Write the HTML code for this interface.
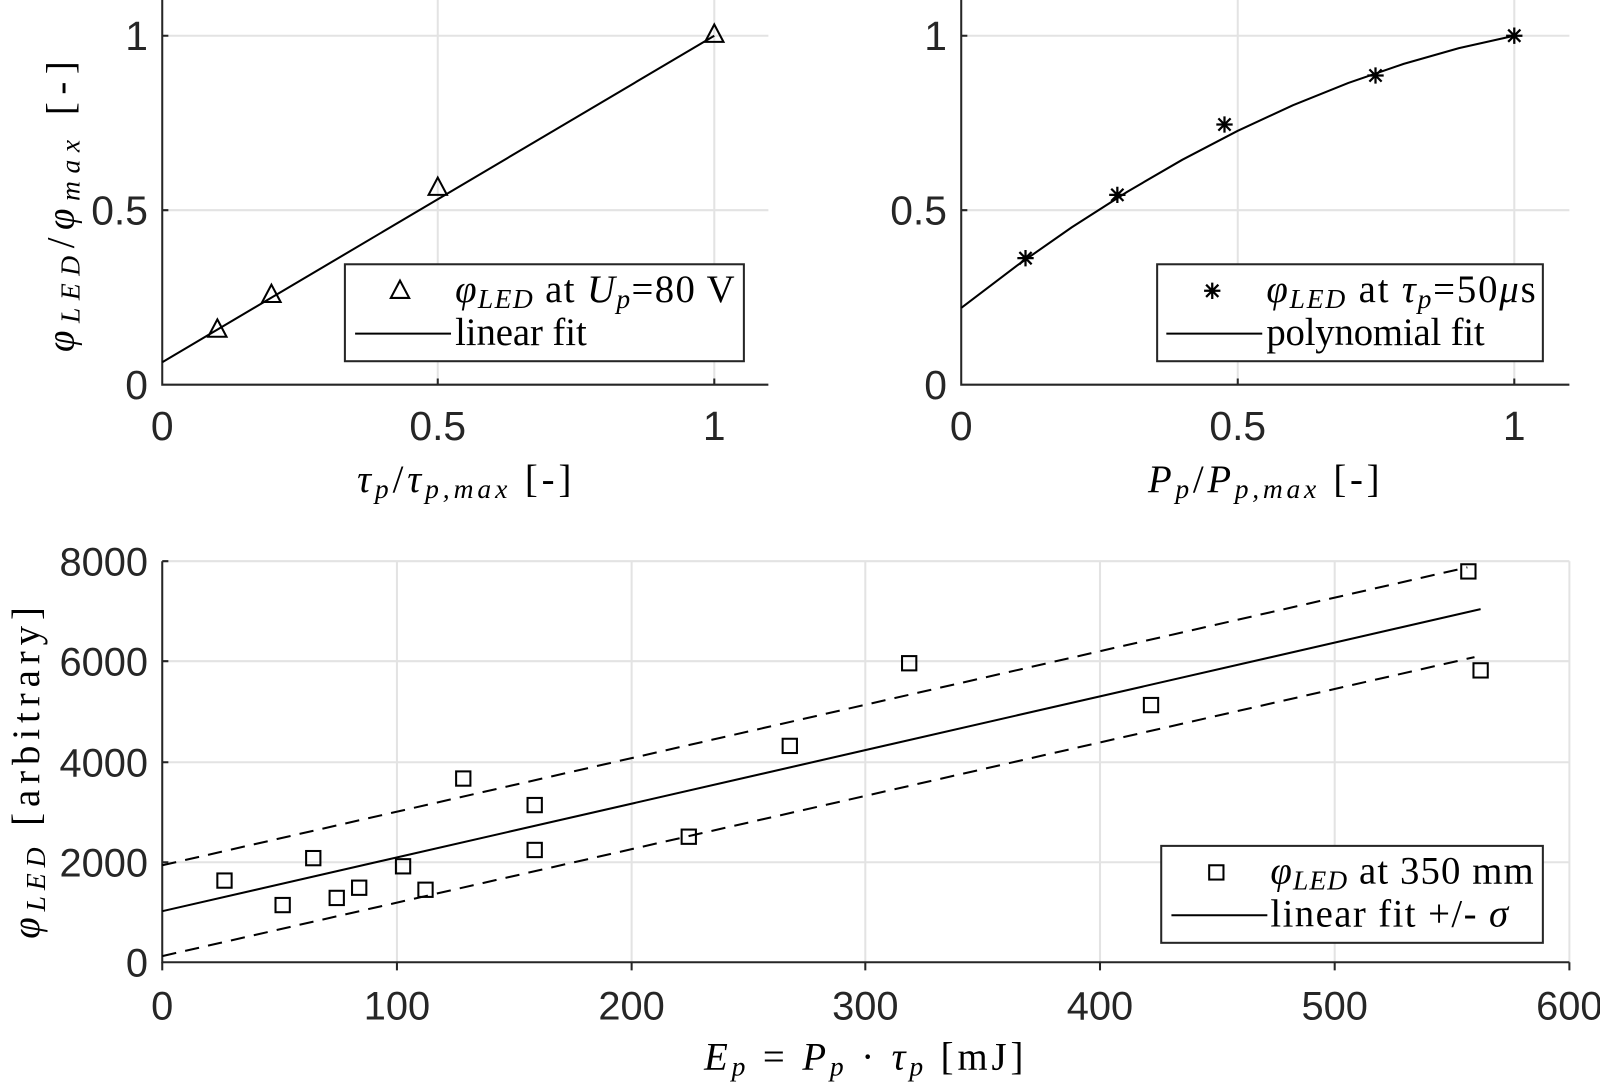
<!DOCTYPE html>
<html><head><meta charset="utf-8"><style>
html,body{margin:0;padding:0;background:#fff;}
svg{display:block}
.t{font-family:"Liberation Sans",sans-serif;font-size:40px;fill:#262626}
.tb{font-family:"Liberation Sans",sans-serif;font-size:39px;fill:#262626}
.s{font-family:"Liberation Serif",serif;font-size:38px;fill:#000}
.i{font-style:italic}
.g{stroke:#e3e3e3;stroke-width:2;fill:none}
.ax{stroke:#262626;stroke-width:2;fill:none}
</style></head><body>
<svg width="1600" height="1082" viewBox="0 0 1568 1060.4" preserveAspectRatio="none" xmlns="http://www.w3.org/2000/svg">
<!-- Top-left -->
<g>
<line class="g" x1="429" y1="0" x2="429" y2="377"/><line class="g" x1="700" y1="0" x2="700" y2="377"/>
<line class="g" x1="159" y1="206" x2="753" y2="206"/><line class="g" x1="159" y1="35" x2="753" y2="35"/>
<path class="ax" d="M159 0V377H753"/>
<path class="ax" d="M429 377v-6M700 377v-6M159 206h6M159 35h6"/>
<text class="t" x="159" y="431" text-anchor="middle">0</text>
<text class="t" x="429" y="431" text-anchor="middle">0.5</text>
<text class="t" x="700" y="431" text-anchor="middle">1</text>
<text class="t" x="145" y="391" text-anchor="end">0</text>
<text class="t" x="145" y="220" text-anchor="end">0.5</text>
<text class="t" x="145" y="49" text-anchor="end">1</text>
<line x1="159" y1="355" x2="700" y2="35" stroke="#000" stroke-width="2"/>
<g fill="none" stroke="#000" stroke-width="2">
<path d="M213 313l9 17h-18z"/><path d="M266 279l9 17h-18z"/><path d="M429 174l9 17h-18z"/><path d="M700 24l9 17h-18z"/>
</g>
<rect x="338" y="259" width="391" height="95" fill="#fff" stroke="#262626" stroke-width="2"/>
<path d="M392 275l9 17h-18z" fill="none" stroke="#000" stroke-width="2"/>
<text class="s" x="446" y="296" textLength="274" lengthAdjust="spacing"><tspan class="i">φ</tspan><tspan class="i" font-size="27" dy="6">LED</tspan><tspan dy="-6"> at </tspan><tspan class="i">U</tspan><tspan class="i" font-size="27" dy="6">p</tspan><tspan dy="-6">=80 V</tspan></text>
<line x1="348" y1="327" x2="442" y2="327" stroke="#000" stroke-width="2"/>
<text class="s" x="446" y="338" textLength="129" lengthAdjust="spacing">linear fit</text>
<text class="s" x="350" y="482" textLength="210" lengthAdjust="spacing"><tspan class="i">τ</tspan><tspan class="i" font-size="27" dy="6">p</tspan><tspan dy="-6">/</tspan><tspan class="i">τ</tspan><tspan class="i" font-size="27" dy="6">p,max</tspan><tspan dy="-6"> [-]</tspan></text>
<text class="s" transform="translate(72,345) rotate(-90)" textLength="285" lengthAdjust="spacing"><tspan class="i">φ</tspan><tspan class="i" font-size="27" dy="6">LED</tspan><tspan dy="-6">/</tspan><tspan class="i">φ</tspan><tspan class="i" font-size="27" dy="6">max</tspan><tspan dy="-6"> [-]</tspan></text>
</g>
<!-- Top-right -->
<g>
<line class="g" x1="1213" y1="0" x2="1213" y2="377"/><line class="g" x1="1484" y1="0" x2="1484" y2="377"/>
<line class="g" x1="942" y1="206" x2="1538" y2="206"/><line class="g" x1="942" y1="35" x2="1538" y2="35"/>
<path class="ax" d="M942 0V377H1538"/>
<path class="ax" d="M1213 377v-6M1484 377v-6M942 206h6M942 35h6"/>
<text class="t" x="942" y="431" text-anchor="middle">0</text>
<text class="t" x="1213" y="431" text-anchor="middle">0.5</text>
<text class="t" x="1484" y="431" text-anchor="middle">1</text>
<text class="t" x="928" y="391" text-anchor="end">0</text>
<text class="t" x="928" y="220" text-anchor="end">0.5</text>
<text class="t" x="928" y="49" text-anchor="end">1</text>
<polyline points="942,301.8 996.2,260.6 1050.4,222.7 1104.6,188 1158.8,156.5 1213,128.2 1267.2,103.1 1321.4,81.3 1375.6,62.6 1429.8,47.2 1484,35" fill="none" stroke="#000" stroke-width="2" stroke-linejoin="round"/>
<g stroke="#000" stroke-width="2.2" fill="none">
<path d="M997 253h16M1005 245v16M999 247l12 12M1011 247l-12 12"/>
<path d="M1087 191h16M1095 183v16M1089 185l12 12M1101 185l-12 12"/>
<path d="M1192 122h16M1200 114v16M1194 116l12 12M1206 116l-12 12"/>
<path d="M1340 74h16M1348 66v16M1342 68l12 12M1354 68l-12 12"/>
<path d="M1476 35h16M1484 27v16M1478 29l12 12M1490 29l-12 12"/>
</g>
<rect x="1134" y="259" width="378" height="95" fill="#fff" stroke="#262626" stroke-width="2"/>
<path d="M1180 285h16M1188 277v16M1182 279l12 12M1194 279l-12 12" stroke="#000" stroke-width="2.2"/>
<text class="s" x="1241" y="296" textLength="264" lengthAdjust="spacing"><tspan class="i">φ</tspan><tspan class="i" font-size="27" dy="6">LED</tspan><tspan dy="-6"> at </tspan><tspan class="i">τ</tspan><tspan class="i" font-size="27" dy="6">p</tspan><tspan dy="-6">=50</tspan><tspan class="i">μ</tspan><tspan>s</tspan></text>
<line x1="1143" y1="327" x2="1237" y2="327" stroke="#000" stroke-width="2"/>
<text class="s" x="1241" y="338" textLength="214" lengthAdjust="spacing">polynomial fit</text>
<text class="s" x="1125" y="482" textLength="227" lengthAdjust="spacing"><tspan class="i">P</tspan><tspan class="i" font-size="27" dy="6">p</tspan><tspan dy="-6">/</tspan><tspan class="i">P</tspan><tspan class="i" font-size="27" dy="6">p,max</tspan><tspan dy="-6"> [-]</tspan></text>
</g>
<!-- Bottom -->
<g>
<path class="g" d="M389 550V943M619 550V943M848 550V943M1078 550V943M1308 550V943M1538 550V943"/>
<path class="g" d="M159 550H1538M159 648H1538M159 747H1538M159 845H1538"/>
<path class="ax" d="M159 550V943H1538"/>
<path class="ax" d="M159 943v8M389 943v8M619 943v8M848 943v8M1078 943v8M1308 943v8M1538 943v8M159 845h6M159 747h6M159 648h6M159 550h6"/>
<g class="tb" text-anchor="middle">
<text x="159" y="999">0</text><text x="389" y="999">100</text><text x="619" y="999">200</text><text x="848" y="999">300</text><text x="1078" y="999">400</text><text x="1308" y="999">500</text><text x="1538" y="999">600</text>
</g>
<g class="tb" text-anchor="end">
<text x="145" y="957">0</text><text x="145" y="859">2000</text><text x="145" y="761">4000</text><text x="145" y="662">6000</text><text x="145" y="564">8000</text>
</g>
<line x1="159" y1="893" x2="1451" y2="597" stroke="#000" stroke-width="2"/>
<line x1="159" y1="848" x2="1438" y2="556" stroke="#000" stroke-width="2" stroke-dasharray="14,9"/>
<line x1="159" y1="937" x2="1445" y2="644" stroke="#000" stroke-width="2" stroke-dasharray="14,9"/>
<g fill="none" stroke="#000" stroke-width="2">
<rect x="213" y="856" width="14" height="14"/><rect x="270" y="880" width="14" height="14"/><rect x="300" y="834" width="14" height="14"/><rect x="323" y="873" width="14" height="14"/><rect x="345" y="863" width="14" height="14"/><rect x="388" y="842" width="14" height="14"/><rect x="410" y="865" width="14" height="14"/><rect x="447" y="756" width="14" height="14"/><rect x="517" y="782" width="14" height="14"/><rect x="517" y="826" width="14" height="14"/><rect x="668" y="813" width="14" height="14"/><rect x="767" y="724" width="14" height="14"/><rect x="884" y="643" width="14" height="14"/><rect x="1121" y="684" width="14" height="14"/><rect x="1432" y="553" width="14" height="14"/><rect x="1444" y="650" width="14" height="14"/>
</g>
<rect x="1138" y="829" width="374" height="95" fill="#fff" stroke="#262626" stroke-width="2"/>
<rect x="1185" y="848" width="14" height="14" fill="none" stroke="#000" stroke-width="2"/>
<text class="s" x="1245" y="866" textLength="258" lengthAdjust="spacing"><tspan class="i">φ</tspan><tspan class="i" font-size="27" dy="6">LED</tspan><tspan dy="-6"> at 350 mm</tspan></text>
<line x1="1148" y1="897" x2="1242" y2="897" stroke="#000" stroke-width="2"/>
<text class="s" x="1245" y="908" textLength="233" lengthAdjust="spacing">linear fit +/- <tspan class="i">σ</tspan></text>
<text class="s" x="690" y="1048" textLength="313" lengthAdjust="spacing"><tspan class="i">E</tspan><tspan class="i" font-size="27" dy="6">p</tspan><tspan dy="-6"> = </tspan><tspan class="i">P</tspan><tspan class="i" font-size="27" dy="6">p</tspan><tspan dy="-6"> · </tspan><tspan class="i">τ</tspan><tspan class="i" font-size="27" dy="6">p</tspan><tspan dy="-6"> [mJ]</tspan></text>
<text class="s" transform="translate(38,920) rotate(-90)" textLength="325" lengthAdjust="spacing"><tspan class="i">φ</tspan><tspan class="i" font-size="27" dy="6">LED</tspan><tspan dy="-6"> [arbitrary]</tspan></text>
</g>
</svg>
</body></html>
